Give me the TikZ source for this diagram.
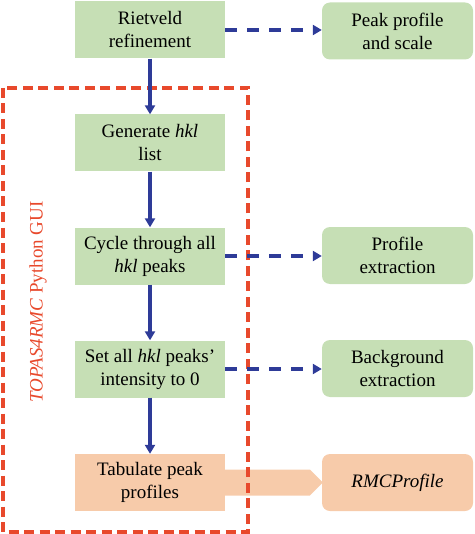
\documentclass[tikz,border=0pt]{standalone}
\usepackage{fontspec}
\setmainfont{Liberation Serif}
\usetikzlibrary{arrows.meta,calc}
\definecolor{boxgreen}{HTML}{C6DFB5}
\definecolor{boxorange}{HTML}{F7CBAA}
\definecolor{arrowblue}{HTML}{2E3B98}
\definecolor{guired}{HTML}{E8492C}
\tikzset{
  leftbox/.style={rectangle, fill=boxgreen, minimum width=150pt, minimum height=57pt, inner sep=0pt, align=center, font=\fontsize{19}{23}\selectfont},
  rightbox/.style={leftbox, rounded corners=8pt, minimum width=151pt},
  flowarrow/.style={draw=arrowblue, line width=3.2pt, -{Triangle[length=9pt,width=10pt]}},
  dasharrow/.style={draw=arrowblue, line width=3.2pt, dash pattern=on 12pt off 10pt, -{Triangle[length=9pt,width=10pt]}},
  guibox/.style={draw=guired, line width=3.4pt, dash pattern=on 10pt off 5.5pt}
}
\begin{document}
\begin{tikzpicture}[x=1pt,y=-1pt]
\useasboundingbox (0,0) rectangle (474,534);
\node[leftbox] (b1) at (150,30) {Rietveld\\refinement};
\node[leftbox] (b2) at (150,143) {Generate \textit{hkl}\\list};
\node[leftbox] (b3) at (150,256) {Cycle through all\\\textit{hkl} peaks};
\node[leftbox] (b4) at (150,369) {Set all \textit{hkl} peaks’\\intensity to 0};
\node[leftbox, fill=boxorange] (b5) at (150,482.5) {Tabulate peak\\profiles};
\node[rightbox] (r1) at (397.5,31) {Peak profile\\and scale};
\node[rightbox] (r2) at (397.5,255.5) {Profile\\extraction};
\node[rightbox] (r3) at (397.5,368.5) {Background\\extraction};
\node[rightbox, fill=boxorange] (r4) at (397.5,482.5) {\textit{RMCProfile}};
% block arrow to RMCProfile
\fill[boxorange] ($(b5.east)+(-2,-13)$) -- ($(r4.west)+(-12,-13)$) -- ($(r4.west)+(1,0)$) -- ($(r4.west)+(-12,13)$) -- ($(b5.east)+(-2,13)$) -- cycle;
% TOPAS4RMC region
\coordinate (g1) at (3,88);
\coordinate (g2) at (248,532);
\draw[guibox] (g1) rectangle (g2);
\node[rotate=90, text=guired, font=\fontsize{19}{23}\selectfont] (gui) at (38,302) {\textit{TOPAS4RMC} Python GUI};
% flow arrows
\draw[flowarrow] (b1) -- (b2);
\draw[flowarrow] (b2) -- (b3);
\draw[flowarrow] (b3) -- (b4);
\draw[flowarrow] (b4) -- (b5);
\draw[dasharrow] (b1.east) -- (b1.east -| r1.west);
\draw[dasharrow] (b3.east) -- (b3.east -| r2.west);
\draw[dasharrow] (b4.east) -- (b4.east -| r3.west);
\end{tikzpicture}
\end{document}
